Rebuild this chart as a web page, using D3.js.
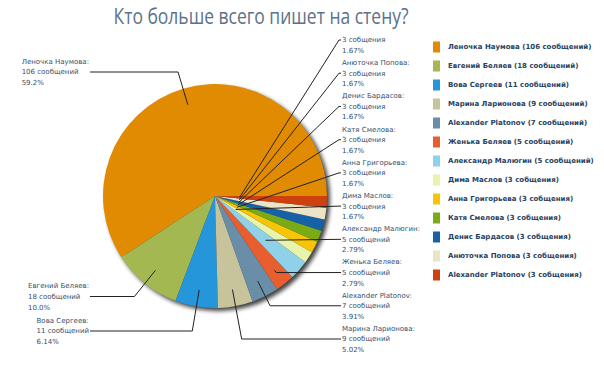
<!DOCTYPE html>
<html>
<head>
<meta charset="utf-8">
<script src="https://cdn.jsdelivr.net/npm/d3@7"></script>
<style>
  body { margin: 0; background: #fff; }
  svg { display: block; }
</style>
</head>
<body>
<svg id="chart"></svg>
<script>
// Chart data
const names = ["Леночка Наумова", "Евгений Беляев", "Вова Сергеев", "Марина Ларионова",
    "Alexander Platonov", "Женька Беляев", "Александр Малюгин", "Дима Маслов",
    "Анна Григорьева", "Катя Смелова", "Денис Бардасов", "Анюточка Попова", "Alexander Platonov"];
const counts = [106, 18, 11, 9, 7, 5, 5, 3, 3, 3, 3, 3, 3];
const units = ["сообщений", "сообщений", "сообщений", "сообщений", "сообщений", "сообщений",
    "сообщений", "собщения", "собщения", "собщения", "собщения", "собщения", "собщения"];
const sliceColors = ["#e18b02", "#a3b850", "#2596da", "#c7c39b", "#6b8ea8", "#e95e2e",
    "#8fd1e8", "#e8f4ac", "#f7c505", "#7bab14", "#1562a9", "#ebe4c7", "#cf400f"];

const titleText = "Кто больше всего пишет на стену?";

// Layout
const width = 604, height = 378;
const cx = 215, cy = 196, radius = 112;
// how deep into the slice each label line reaches (fraction of radius)
const anchorDepth = [0.85, 0.85, 0.85, 0.85, 0.85, 0.85, 0.6, 0.22, 0.22, 0.22, 0.22, 0.22, 0.22];
const leftLabels = {0: 72, 1: 296.5, 2: 331}; // label middle line y
const leftEdge = 90;     // right end of left label blocks
const rightEdge = 341;   // left start of right label blocks
const lineGap = 10.6;

const svg = d3.select("#chart").attr("width", width).attr("height", height);

// Title
svg.append("text")
    .attr("x", 261)
    .attr("y", 24)
    .attr("text-anchor", "middle")
    .attr("textLength", 295)
    .attr("lengthAdjust", "spacingAndGlyphs")
    .style("font-family", "'Open Sans', sans-serif")
    .style("font-size", "22px")
    .style("fill", "#5b718a")
    .text(titleText);

// Drop shadow
const defs = svg.append("defs");
defs.append("filter").attr("id", "shadow")
    .attr("x", "-20%").attr("y", "-20%").attr("width", "140%").attr("height", "140%")
    .append("feGaussianBlur").attr("stdDeviation", 2);

svg.append("circle")
    .attr("cx", cx + 3).attr("cy", cy + 3).attr("r", radius)
    .attr("fill", "#000").attr("opacity", 0.75)
    .attr("filter", "url(#shadow)");

// Pie
const pie = d3.pie().value(d => d).sort(null)
    .startAngle(Math.PI / 2).endAngle(Math.PI / 2 - 2 * Math.PI);
const arcData = pie(counts);
const arc = d3.arc().innerRadius(0).outerRadius(radius);

const g = svg.append("g").attr("transform", `translate(${cx},${cy})`);
g.selectAll("path.slice")
    .data(arcData)
    .enter().append("path")
    .attr("class", "slice")
    .attr("d", arc)
    .attr("fill", (d, i) => sliceColors[i]);

// Percent truncated to 3 significant digits (like the original)
const total = d3.sum(counts);
function pct(v) {
    const p = v / total * 100;
    const digits = Math.max(0, 2 - Math.floor(Math.log10(p)));
    const f = Math.pow(10, digits);
    return (Math.floor(p * f + 1e-9) / f).toFixed(digits) + "%";
}

// Right side labels: small slices from the last one upwards
const rightIdx = d3.range(counts.length - 1, 2, -1);
const rightY = d3.scaleLinear().domain([0, rightIdx.length - 1]).range([40, 339]);

const labels = [];
arcData.forEach((d, i) => {
    if (i in leftLabels) labels.push({i, side: "left", y: leftLabels[i]});
});
rightIdx.forEach((i, k) => labels.push({i, side: "right", y: rightY(k)}));

const textStyle = sel => sel
    .style("font-family", "'DejaVu Sans', Verdana, sans-serif")
    .style("font-size", "7px")
    .style("fill", "#344f6c");

const lineG = svg.append("g");
const labelG = svg.append("g");

labels.forEach(l => {
    const d = arcData[l.i];
    const mid = (d.startAngle + d.endAngle) / 2;
    const r = radius * anchorDepth[l.i];
    const ax = cx + r * Math.sin(mid), ay = cy - r * Math.cos(mid);
    const dx = Math.sin(mid), dy = -Math.cos(mid);
    const lx = l.side === "right" ? rightEdge : leftEdge;

    // knee: where the radial ray meets the label line, otherwise next to the label
    let kx = l.side === "right" ? lx - 2 : lx + 2;
    const t = dy !== 0 ? (l.y - ay) / dy : -1;
    if (t >= 0) {
        const x = ax + t * dx;
        if ((l.side === "right" && x < lx - 4) || (l.side === "left" && x > lx + 4)) kx = x;
    }
    lineG.append("path")
        .attr("d", d3.line()([[ax, ay], [kx, l.y], [lx, l.y]]))
        .attr("fill", "none")
        .attr("stroke", "#222")
        .attr("stroke-width", 1);

    const lines = [names[l.i] + ":", counts[l.i] + " " + units[l.i], pct(counts[l.i])];
    const block = labelG.append("g");
    lines.forEach((s, k) => {
        const y = l.y + (k - 1) * lineGap;
        if (y < 36) return; // top name is hidden under the title area
        block.append("text")
            .attr("x", 0)
            .attr("y", y)
            .attr("dy", "0.35em")
            .call(textStyle)
            .text(s);
    });
    let bx = rightEdge + 1;
    if (l.side === "left") {
        const w = d3.max(block.selectAll("text").nodes(), n => n.getComputedTextLength());
        bx = leftEdge - w - 1;
    }
    block.attr("transform", `translate(${bx},0)`);
});

// Legend
const legend = svg.append("g").attr("transform", "translate(433,47)");
const item = legend.selectAll("g.item")
    .data(names)
    .enter().append("g")
    .attr("class", "item")
    .attr("transform", (d, i) => `translate(0,${i * 19})`);

item.append("rect")
    .attr("x", 0).attr("y", -5.5)
    .attr("width", 7).attr("height", 11)
    .attr("fill", (d, i) => sliceColors[i]);

item.append("text")
    .attr("x", 15)
    .attr("y", 0)
    .attr("dy", "0.35em")
    .style("font-family", "'DejaVu Sans', Verdana, sans-serif")
    .style("font-size", "7px")
    .style("font-weight", "bold")
    .style("fill", "#26425f")
    .text((d, i) => `${d} (${counts[i]} ${units[i]})`);
</script>
</body>
</html>
